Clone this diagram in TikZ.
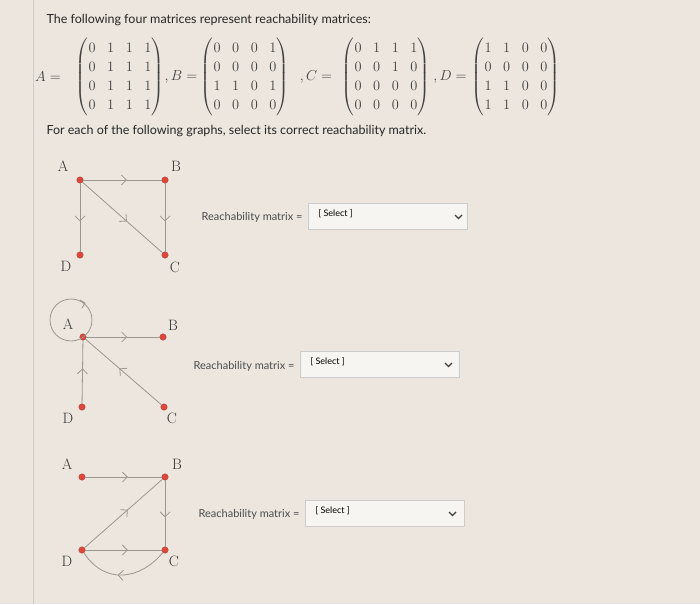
\documentclass[tikz,border=0pt]{standalone}
\usepackage{fontspec}
\setmainfont{Lato}
\usepackage{amsmath}
\usetikzlibrary{decorations.markings,arrows.meta}
\definecolor{bg}{HTML}{ECE6DE}
\definecolor{edge}{HTML}{9A9690}
\definecolor{dotc}{HTML}{E0473A}
\tikzset{
 vtx/.style={circle,fill=dotc,draw=dotc!70!black,line width=0.3pt,inner sep=0pt,minimum size=6.5pt},
 lbl/.style={font=\fontsize{15}{15}\selectfont,text=black!80},
 ed/.style={draw=edge,line width=0.8pt,postaction={decorate},decoration={markings,mark=at position #1 with {\draw[edge,line width=0.8pt] (-5pt,5pt)--(0,0)--(-5pt,-5pt);}}},
 ed/.default=0.55,
 dd/.style={draw=black!20,fill=white!60!bg,minimum width=159pt,minimum height=26pt,inner sep=0pt},
 rm/.style={font=\fontsize{11}{13}\selectfont\color{black!70}},
 mat/.style={font=\fontsize{15}{17}\selectfont\color{black!75},inner sep=0pt},
 chev/.style={draw=black!75,line width=1.3pt},
}
\newfontfamily\lmr{Latin Modern Roman}
\begin{document}
\begin{tikzpicture}[x=1pt,y=-1pt]
\fill[bg] (0,0) rectangle (700,604);
\useasboundingbox (0,0) rectangle (700,604);
\draw[black!20,line width=0.8pt] (33,0)--(33,604);
\node[anchor=west,font=\fontsize{12.5}{14}\selectfont,text=black!85] (t1) at (43,20) {The following four matrices represent reachability matrices:};
\node[anchor=west,font=\fontsize{12.5}{14}\selectfont,text=black!85] (t2) at (43,131) {For each of the following graphs, select its correct reachability matrix.};
\renewcommand{\arraystretch}{1.12}
\setlength{\arraycolsep}{5.8pt}
\node[mat] (la) at (48,77) {$A=$};
\node[mat] (ma) at (120,77) {$\begin{pmatrix}0&1&1&1\\0&1&1&1\\0&1&1&1\\0&1&1&1\end{pmatrix}$};
\node[mat] (lb) at (181,77) {$,B=$};
\node[mat] (mb) at (245,77) {$\begin{pmatrix}0&0&0&1\\0&0&0&0\\1&1&0&1\\0&0&0&0\end{pmatrix}$};
\node[mat] (lc) at (316,77) {$,C=$};
\node[mat] (mc) at (386,77) {$\begin{pmatrix}0&1&1&1\\0&0&1&0\\0&0&0&0\\0&0&0&0\end{pmatrix}$};
\node[mat] (ld) at (450,77) {$,D=$};
\node[mat] (md) at (516,77) {$\begin{pmatrix}1&1&0&0\\0&0&0&0\\1&1&0&0\\1&1&0&0\end{pmatrix}$};
% graph 1
\node[vtx] (a1) at (80,180) {}; \node[vtx] (b1) at (165,180) {};
\node[vtx] (d1) at (80,255) {}; \node[vtx] (c1) at (165,255) {};
\node[lbl] at (63,166) {\lmr A}; \node[lbl] at (176,166) {\lmr B};
\node[lbl] at (66,266) {\lmr D}; \node[lbl] at (175,267) {\lmr C};
\draw[ed] (a1)--(b1); \draw[ed] (b1)--(c1); \draw[ed] (a1)--(c1); \draw[ed] (a1)--(d1);
\node[rm,anchor=east] (r1) at (306,217) {Reachability matrix =};
\node[dd,anchor=west] (s1) at (308,216) {};
\node[rm,font=\fontsize{9}{10}\selectfont,anchor=west] at (315,214) {[ Select ]};
\draw[chev] (455,215)--(458.5,218.5)--(462,215);
% graph 2
\node[vtx] (a2) at (83,337) {}; \node[vtx] (b2) at (163,337) {};
\node[vtx] (d2) at (82,407) {}; \node[vtx] (c2) at (164,407) {};
\node[lbl] at (68,324) {\lmr A}; \node[lbl] at (173,325) {\lmr B};
\node[lbl] at (68,418) {\lmr D}; \node[lbl] at (172,418) {\lmr C};
\draw[edge,line width=0.8pt] (71,320) circle (21);
\draw[edge,line width=0.8pt] (80,300)--(85,303)--(82,308);
\draw[ed] (a2)--(b2); \draw[ed] (d2)--(a2); \draw[ed] (c2)--(a2);
\node[rm,anchor=east] (r2) at (298,366) {Reachability matrix =};
\node[dd,anchor=west] (s2) at (300,364) {};
\node[rm,font=\fontsize{9}{10}\selectfont,anchor=west] at (307,362) {[ Select ]};
\draw[chev] (445,363)--(448.5,366.5)--(452,363);
% graph 3
\node[vtx] (a3) at (82,477) {}; \node[vtx] (b3) at (165,477) {};
\node[vtx] (d3) at (82,550) {}; \node[vtx] (c3) at (165,550) {};
\node[lbl] at (67,464) {\lmr A}; \node[lbl] at (177,464) {\lmr B};
\node[lbl] at (67,561) {\lmr D}; \node[lbl] at (174,561) {\lmr C};
\draw[ed] (a3)--(b3); \draw[ed] (b3)--(c3); \draw[ed] (d3)--(b3); \draw[ed] (d3)--(c3);
\draw[ed] (c3) .. controls (140,580) and (105,585) .. (d3);
\node[rm,anchor=east] (r3) at (303,514) {Reachability matrix =};
\node[dd,anchor=west] (s3) at (305,513) {};
\node[rm,font=\fontsize{9}{10}\selectfont,anchor=west] at (312,511) {[ Select ]};
\draw[chev] (449,512)--(452.5,515.5)--(456,512);
\end{tikzpicture}
\end{document}
